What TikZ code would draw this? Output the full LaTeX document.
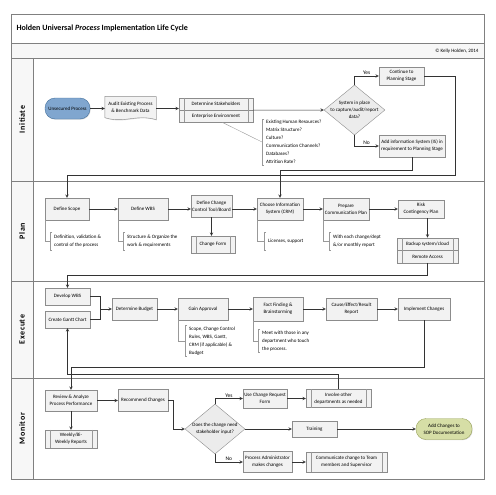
\documentclass[tikz,border=0pt]{standalone}
\usepackage{fontspec}
\setmainfont{Carlito}
\newfontfamily\lanefont[LetterSpace=8]{Carlito}
\usetikzlibrary{arrows,calc,shapes,shadows,backgrounds,positioning}
\definecolor{boxline}{rgb}{0.55,0.55,0.55}
\definecolor{boxfill}{rgb}{0.95,0.95,0.95}
\definecolor{swimline}{rgb}{0.5,0.5,0.5}
\definecolor{startfill}{rgb}{0.5,0.65,0.81}
\definecolor{startline}{rgb}{0.26,0.44,0.61}
\definecolor{endfill}{rgb}{0.84,0.87,0.65}
\definecolor{endline}{rgb}{0.6,0.64,0.36}
\tikzstyle{process}=[rectangle,draw=boxline,fill=boxfill,thin,inner sep=0pt,align=center,
  minimum height=22pt,drop shadow={shadow xshift=0.7pt,shadow yshift=-0.7pt,opacity=0.3}]
\tikzstyle{predef}=[process]
\tikzstyle{terminal}=[process,rounded corners=10pt,minimum height=21pt]
\tikzstyle{decision}=[diamond,draw=boxline,fill=gray!15,thin,inner sep=0pt]
\tikzstyle{note}=[rectangle,inner sep=1pt,align=left,anchor=west,minimum height=18pt,
  font=\fontsize{5}{8}\selectfont]
\tikzstyle{annot}=[draw=gray!80,thin]
\tikzstyle{conn}=[draw=black!80,line width=0.5pt]
\tikzstyle{swim}=[draw=swimline,line width=0.7pt]
\tikzstyle{lanelabel}=[rotate=90,font=\lanefont\bfseries\fontsize{8}{9}\selectfont]
\tikzstyle{answer}=[font=\fontsize{5.5}{6}\selectfont,inner sep=1pt]

\begin{document}
\begin{tikzpicture}[x=1pt,y=-1pt,>=stealth,font=\fontsize{5}{7}\selectfont]
    \useasboundingbox (0,0) rectangle (495,495);

    % frame and swim lanes
    \fill[gray!6] (11,43) rectangle (484,58);
    \fill[gray!6] (11,58) rectangle (33,479);
    \draw[swim] (11,14) rectangle (484,479);
    \draw[swim] (11,43) -- (484,43);
    \draw[swim] (11,58) -- (484,58);
    \draw[swim] (33,58) -- (33,479);
    \foreach \y in {181,281,378} \draw[swim] (11,\y) -- (484,\y);

    \node[anchor=west,font=\bfseries\fontsize{8}{9}\selectfont] (title) at (13,28.5)
      {Holden Universal \textit{Process} Implementation Life Cycle};
    \node[anchor=east] (copy) at (482,51) {\copyright\ Kelly Holden, 2014};

    \node[lanelabel] (lini) at (22,119.5) {Initiate};
    \node[lanelabel] (lplan) at (22,231) {Plan};
    \node[lanelabel] (lexe) at (22,329.5) {Execute};
    \node[lanelabel] (lmon) at (22,428.5) {Monitor};

    % Initiate
    \node[terminal,fill=startfill,draw=startline,minimum width=45pt] (unsec) at (67.5,108.5) {Unsecured Process};
    \node[inner sep=0pt,minimum width=51pt,minimum height=22pt,align=center] (audit) at (130.5,107.5)
      {Audit Existing Process \\ \& Benchmark Data};
    \begin{scope}[on background layer]
      \draw[draw=boxline,fill=boxfill,thin,drop shadow={shadow xshift=0.7pt,shadow yshift=-0.7pt,opacity=0.3}]
        (audit.north west) -- (audit.north east) -- ([yshift=-1pt]audit.south east)
        .. controls +(-20,-6) and +(20,6) .. ([yshift=1pt]audit.south west) -- cycle;
    \end{scope}
    \node[predef,minimum width=74pt,minimum height=12pt] (stake1) at (216,104) {Determine Stakeholders};
    \node[predef,minimum width=74pt,minimum height=12pt] (stake2) at (216,116) {Enterprise Environment};
    \node[decision,minimum width=61pt,minimum height=50pt] (sysq) at (354.5,110) {};
    \node[align=center,inner sep=0pt] (sysqt) at (sysq) {System in place \\ to capture/audit/report \\ data?};
    \node[process,minimum width=45pt,minimum height=18pt] (cont) at (401.5,76) {Continue to \\ Planning Stage};
    \node[process,minimum width=66pt] (addis) at (412,146) {Add information System (IS) in \\ requirement to Planning Stage};
    \node[note] (ninit) at (265,142) {Existing Human Resources? \\ Matrix Structure? \\ Culture? \\
      Communication Channels? \\ Databases? \\ Attrition Rate?};

    % Plan
    \node[process,minimum width=44pt] (scope) at (67,209) {Define Scope};
    \node[process,minimum width=50pt] (wbs) at (143,209) {Define WBS};
    \node[process,minimum width=41pt] (ctrl) at (211.5,206) {Define Change \\ Control Tool/Board};
    \node[predef,minimum width=44pt,minimum height=17pt] (cform) at (213,244.5) {Change Form};
    \node[process,minimum width=46pt] (chis) at (280,209) {Choose Information \\ System (CRM)};
    \node[process,minimum width=46pt] (comm) at (346,209) {Prepare \\ Communication Plan};
    \node[process,minimum width=46pt,minimum height=18pt] (risk) at (421,209) {Risk \\ Contingency Plan};
    \node[predef,minimum width=61pt,minimum height=12.5pt] (backup1) at (427.5,244) {Backup system/cloud};
    \node[predef,minimum width=61pt,minimum height=12.5pt] (backup2) at (427.5,256.5) {Remote Access};
    \node[note] (nscope) at (53,241) {Definition, validation \& \\ control of the process};
    \node[note] (nwbs) at (126,241) {Structure \& Organize the \\ work \& requirements};
    \node[note] (nchis) at (267,241) {Licenses, support};
    \node[note] (ncomm) at (332,241) {With each change/dept \\ \&/or monthly report};

    % Execute
    \node[process,minimum width=45pt,minimum height=17pt] (dwbs) at (67.5,296.5) {Develop WBS};
    \node[process,minimum width=45pt,minimum height=17pt] (gantt) at (67.5,319.5) {Create Gantt Chart};
    \node[process,minimum width=45pt] (budget) at (134.5,309) {Determine Budget};
    \node[process,minimum width=50pt] (appr) at (203,309) {Gain Approval};
    \node[process,minimum width=50pt,minimum height=24pt] (fact) at (278,309) {Fact Finding \& \\ Brainstorming};
    \node[process,minimum width=51pt] (cause) at (351.5,309) {Cause/Effect/Result \\ Report};
    \node[process,minimum width=52pt] (impl) at (424,309) {Implement Changes};
    \node[note] (nappr) at (188,341) {Scope, Change Control \\ Rules, WBS, Gantt, \\ CRM (if applicable) \& \\ Budget};
    \node[note] (nfact) at (261,341) {Meet with those in any \\ department who touch \\ the process.};

    % Monitor
    \node[process,minimum width=52pt,minimum height=21pt] (review) at (71,400.5) {Review \& Analyze \\ Process Performance};
    \node[predef,minimum width=52pt,minimum height=18pt] (weekly) at (71,439) {Weekly/Bi- \\ Weekly Reports};
    \node[process,minimum width=50pt] (recom) at (143,400.5) {Recommend Changes};
    \node[decision,minimum width=60pt,minimum height=50pt] (stq) at (215,429) {};
    \node[align=center,inner sep=0pt] (stqt) at (stq) {Does the change need \\ stakeholder input?};
    \node[process,minimum width=44pt,minimum height=19pt] (ucr) at (265,398.5) {Use Change Request \\ Form};
    \node[predef,minimum width=65pt,minimum height=18pt] (invol) at (338.5,398.5) {Involve other \\ departments as needed};
    \node[process,minimum width=45pt,minimum height=16pt] (train) at (314.5,429) {Training};
    \node[terminal,fill=endfill,draw=endline,minimum width=56pt] (sop) at (444,429) {Add Changes to \\ SOP Documentation};
    \node[process,minimum width=49pt,minimum height=21pt] (padm) at (267.5,462) {Process Administrator \\ makes changes};
    \node[predef,minimum width=81pt,minimum height=20pt] (commt) at (346.5,462) {Communicate change to Team \\ members and Supervisor};

    % side bars of the predefined steps
    \foreach \n in {stake1,stake2,cform,backup1,backup2,weekly,invol,commt}
      \draw[annot] ([xshift=5pt]\n.north west) -- ([xshift=5pt]\n.south west)
                   ([xshift=-5pt]\n.north east) -- ([xshift=-5pt]\n.south east);

    % annotation brackets
    \foreach \n in {ninit,nscope,nwbs,nchis,ncomm,nappr,nfact}
      \draw[annot] ([xshift=-1pt]\n.north west) -| ([xshift=-3pt]\n.south west) -- ([xshift=-1pt]\n.south west);
    \draw[annot] ([xshift=6pt]stake2.south) -- ([xshift=-3pt]ninit.west);
    \draw[annot] (scope.south west) |- ([xshift=-3pt]nscope.west);
    \draw[annot] (wbs.south west) |- ([xshift=-3pt]nwbs.west);
    \draw[annot] (chis.south west) |- ([xshift=-3pt]nchis.west);
    \draw[annot] (comm.south west) |- ([xshift=-3pt]ncomm.west);
    \draw[annot] (appr.south west) |- ([xshift=-3pt]nappr.west);
    \draw[annot] (fact.south west) |- ([xshift=-3pt]nfact.west);

    % flow
    \coordinate (cturn) at (455,175);
    \coordinate (aturn) at (280,170);
    \coordinate (bturn) at (67.5,275);
    \coordinate (merge) at (100,309);
    \coordinate (iturn) at (71,367);
    \coordinate (vturn) at (67.5,374);

    \draw[conn,->] (unsec) -- (audit.west |- unsec.east);
    \draw[conn,->] (audit.east |- unsec.east) -- (stake1.west |- unsec.east);
    \draw[conn,->] (stake1.south east) -- (sysq.west);
    \draw[conn,->] (sysq.north) |- (cont.west) node[answer,pos=0.75,above] {Yes};
    \draw[conn,->] (sysq.south) |- (addis.west) node[answer,pos=0.75,above] {No};
    \draw[conn,->] (cont.east) -| (cturn) -| (scope.north);
    \draw[conn,->] (addis.south) |- (aturn) -- (chis.north);

    \draw[conn,->] (scope) -- (wbs);
    \draw[conn,->] (wbs.east) -- (wbs.east -| ctrl.west);
    \draw[conn,->] (ctrl.south) -- (ctrl.south |- cform.north);
    \draw[conn,->] (ctrl.east |- chis.west) -- (chis.west);
    \draw[conn,->] (chis) -- (comm);
    \draw[conn,->] (comm) -- (risk);
    \draw[conn,->] (risk.south -| backup1.north) -- (backup1.north);
    \draw[conn,->] (backup2.south) |- (bturn) -- (dwbs.north);

    \draw[conn] (dwbs.east) -| (merge);
    \draw[conn] (gantt.east) -| (merge);
    \draw[conn,->] (merge) -- (budget.west);
    \draw[conn,->] (budget) -- (appr);
    \draw[conn,->] (appr) -- (fact);
    \draw[conn,->] (fact) -- (cause);
    \draw[conn,->] (cause) -- (impl);
    \draw[conn,->] (impl.south) |- (iturn) -- (review.north);
    \draw[conn,->] (invol.north) |- (vturn) -- (gantt.south);

    \draw[conn,->] (review) -- (recom);
    \draw[conn,->] (review) -- (weekly);
    \draw[conn,->] (recom.east) -- ++(5,0) |- (stq.west);
    \draw[conn,->] (stq.north) |- (ucr.west) node[answer,pos=0.75,above] {Yes};
    \draw[conn,->] (stq.south) |- (padm.west) node[answer,pos=0.75,above] {No};
    \draw[conn,->] (stq.east) -- (train.west);
    \draw[conn,->] (train) -- (sop);
    \draw[conn,->] (ucr) -- (invol);
    \draw[conn,->] (padm) -- (commt);
\end{tikzpicture}
\end{document}
